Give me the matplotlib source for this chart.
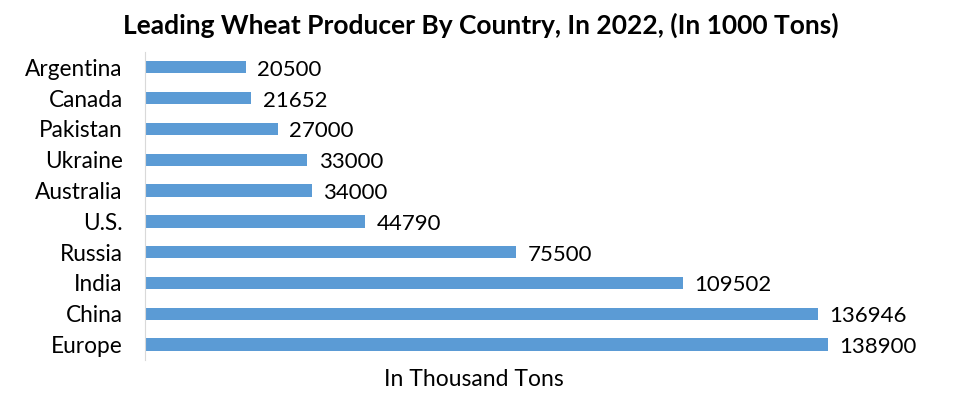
import matplotlib.pyplot as plt

countries = ['Europe', 'China', 'India', 'Russia', 'U.S.', 'Australia',
             'Ukraine', 'Pakistan', 'Canada', 'Argentina']
production = [138900, 136946, 109502, 75500, 44790, 34000, 33000, 27000, 21652, 20500]

plt.rcParams['font.family'] = ['Lato', 'DejaVu Sans']

fig = plt.figure(figsize=(9.57, 3.94), dpi=100)
ax = fig.add_axes([0.1515, 0.0863, 0.822, 0.782])

ypos = range(len(countries))
ax.barh(ypos, production, height=0.4, color='#5B9BD5')
for y, v in zip(ypos, production):
    ax.text(v + 2300, y - 0.08, str(v), va='center', ha='left', fontsize=16, color='black')

ax.set_yticks(list(ypos))
ax.set_yticklabels(countries, fontsize=16.3)
ax.tick_params(axis='y', length=0, pad=16)
ax.set_xticks([])
ax.set_xlim(0, 160000)
ax.set_ylim(-0.5, 9.5)

for s in ['top', 'right', 'bottom']:
    ax.spines[s].set_visible(False)
ax.spines['left'].set_color('#D9D9D9')

ax.set_xlabel('In Thousand Tons', fontsize=16.5)
ax.xaxis.set_label_coords(0.418, -0.03)

fig.text(0.502, 0.935, 'Leading Wheat Producer By Country, In 2022, (In 1000 Tons)',
         ha='center', va='center', fontsize=19, fontweight='bold')

fig.savefig('out.png', dpi=100)
